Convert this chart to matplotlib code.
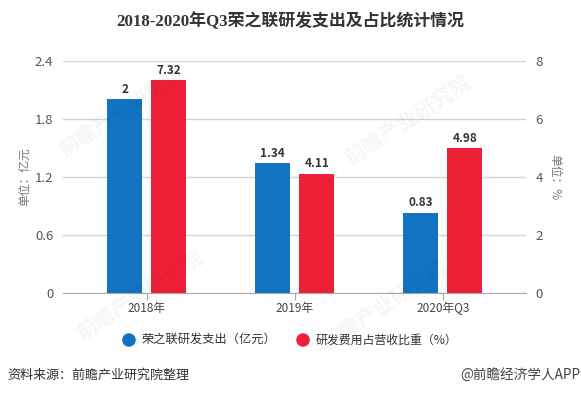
import matplotlib
matplotlib.use("Agg")
import matplotlib.pyplot as plt
import numpy as np

plt.rcParams['font.family'] = ['Noto Sans CJK SC', 'DejaVu Sans']

categories = ['2018年', '2019年', '2020年Q3']
spend = [2, 1.34, 0.83]
ratio = [7.32, 4.11, 4.98]
spend_labels = ['2', '1.34', '0.83']
ratio_labels = ['7.32', '4.11', '4.98']
left_ticks = [0, 0.6, 1.2, 1.8, 2.4]
left_tick_labels = ['0', '0.6', '1.2', '1.8', '2.4']
right_ticks = [0, 2, 4, 6, 8]
legend_names = ['荣之联研发支出（亿元）', '研发费用占营收比重（%）']
title = '2018-2020年Q3荣之联研发支出及占比统计情况'
source = '资料来源：前瞻产业研究院整理'
credit = '@前瞻经济学人APP'

BLUE = '#1273c2'
RED = '#ee2038'
W, H = 581, 395
fig = plt.figure(figsize=(W / 100, H / 100), dpi=100, facecolor='white')

# watermarks
wm = [(122, 112), (408, 120), (140, 295), (385, 305)]
for x, y in wm:
    fig.text(x / W, 1 - y / H, '前瞻产业研究院', fontsize=15, color='#000000', alpha=0.04,
             rotation=33, ha='center', va='center', fontweight='bold', zorder=0)

ax = fig.add_axes([63 / W, 1 - 293.3 / H, (526 - 63) / W, (293.3 - 60.5) / H])
ax.patch.set_alpha(0)
ax2 = ax.twinx()
ax2.patch.set_alpha(0)
x = np.arange(3)
offset, width = 22 / 148, 35 / 148
ax.bar(x - offset, spend, width, color=BLUE, zorder=3)
ax2.bar(x + offset, ratio, width, color=RED, zorder=3)
ax.set_xlim(-0.566, 2.563)
ax.set_ylim(0, 2.4)
ax2.set_ylim(0, 8)
ax.set_yticks(left_ticks, left_tick_labels)
ax2.set_yticks(right_ticks, [str(t) for t in right_ticks])
ax.set_xticks(x, categories)
ax.grid(axis='y', color='#d4d4d4', lw=1, zorder=0)
ax.set_axisbelow(True)
for a in (ax, ax2):
    for s in a.spines.values():
        s.set_visible(False)
ax.spines['bottom'].set_visible(True)
ax.spines['bottom'].set_color('#a8a8a8')
ax.tick_params(axis='x', length=5, color='#a8a8a8', labelcolor='#444444', labelsize=8.5, pad=1)
ax.tick_params(axis='y', length=0, labelcolor='#555555', labelsize=9.5, pad=7)
ax2.tick_params(axis='y', length=0, labelcolor='#555555', labelsize=9.5, pad=7)

for xi, v, t in zip(x, spend, spend_labels):
    ax.annotate(t, (xi - offset, v), xytext=(0, 2.5), textcoords='offset points', ha='center',
                va='bottom', fontsize=8.5, fontweight='bold', color='#333333', zorder=5)
for xi, v, t in zip(x, ratio, ratio_labels):
    ax2.annotate(t, (xi + offset, v), xytext=(0, 2.5), textcoords='offset points', ha='center',
                 va='bottom', fontsize=8.5, fontweight='bold', color='#333333', zorder=5)

fig.text(290 / W, 1 - 21 / H, title, ha='center', va='center', fontsize=12.2, fontweight='bold',
         color='#333333', family=['Liberation Serif', 'Noto Sans CJK SC'])
fig.text(25 / W, 1 - 177 / H, '单位：亿元', rotation=90, ha='center', va='center', fontsize=8.5, color='#777777')
fig.text(555 / W, 1 - 177 / H, '单位：%', rotation=270, ha='center', va='center', fontsize=8.5, color='#777777')

# legend
lax = fig.add_axes([0, 0, 1, 1], facecolor='none')
lax.set_axis_off()
lax.set_xlim(0, W)
lax.set_ylim(H, 0)
lax.scatter([129, 303], [340, 340], s=95, c=[BLUE, RED], linewidths=0)
fig.text(142 / W, 1 - 340 / H, legend_names[0], ha='left', va='center', fontsize=8.8, color='#333333')
fig.text(316 / W, 1 - 340 / H, legend_names[1], ha='left', va='center', fontsize=8.6, color='#333333')

fig.text(7 / W, 1 - 375 / H, source, ha='left', va='center', fontsize=9.4, color='#333333')
fig.text(580 / W, 1 - 375 / H, credit, ha='right', va='center', fontsize=9.8, color='#444444')

fig.savefig('out.png', dpi=100)
